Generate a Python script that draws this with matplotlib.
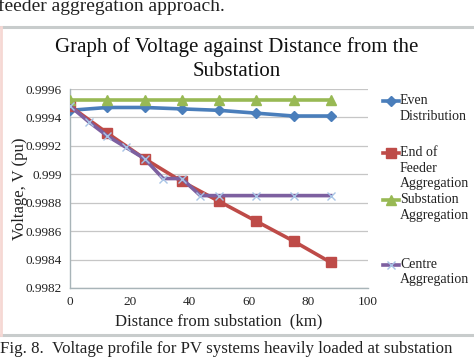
import matplotlib
matplotlib.use("Agg")
import matplotlib.pyplot as plt
from matplotlib.lines import Line2D
from matplotlib.ticker import FixedLocator, FuncFormatter

plt.rcParams["font.family"] = ["Liberation Serif", "DejaVu Serif"]

# data
distance = [0, 12.5, 25, 37.5, 50, 62.5, 75, 87.5]
even_dist = [0.99945, 0.99947, 0.99947, 0.99946, 0.99945, 0.99943, 0.99941, 0.99941]
end_feeder = [0.99948, 0.99929, 0.99911, 0.99895, 0.99881, 0.99867, 0.99853, 0.99838]
substation = [0.99952, 0.99952, 0.99952, 0.99952, 0.99952, 0.99952, 0.99952, 0.99952]
centre_dist = [0, 6.25, 12.5, 18.75, 25, 31.25, 37.5, 43.75, 50, 62.5, 75, 87.5]
centre = [0.99948, 0.99937, 0.99927, 0.99919, 0.99911, 0.99897, 0.99897, 0.99885,
          0.99885, 0.99885, 0.99885, 0.99885]
series_names = ["Even\nDistribution", "End of\nFeeder\nAggregation",
                "Substation\nAggregation", "Centre\nAggregation"]
y_ticks = [0.9982, 0.9984, 0.9986, 0.9988, 0.999, 0.9992, 0.9994, 0.9996]
x_ticks = [0, 20, 40, 60, 80, 100]

W, H = 474, 361
fig = plt.figure(figsize=(W / 100, H / 100), dpi=100)


def fy(py):
    return 1 - py / H


# page fragments around the chart box
fig.text(-0.005, fy(11), "feeder aggregation approach.", fontsize=14,
         ha="left", va="baseline", color="#222222")
fig.text(0.0, fy(353), "Fig. 8.  Voltage profile for PV systems heavily loaded at substation",
         fontsize=12.2, ha="left", va="baseline", color="#222222")
fig.add_artist(Line2D([0, 1], [fy(27), fy(27)], color="#c8cccc", lw=2.2))
fig.add_artist(Line2D([0, 1], [fy(335), fy(335)], color="#c8cccc", lw=2.2))
fig.add_artist(Line2D([0.002, 0.002], [fy(335), fy(27)], color="#f6d8d4", lw=2))

left, right, top, bottom = 70, 368, 89, 288
ax = fig.add_axes([left / W, fy(bottom), (right - left) / W, (bottom - top) / H])

styles = [
    dict(color="#4a7ebb", marker="D", ms=5.5),
    dict(color="#be4b48", marker="s", ms=6.5),
    dict(color="#98b954", marker="^", ms=6.5),
    dict(color="#7d60a0", marker="x", ms=6, mec="#a8c4e6", mew=1),
]
xs = [distance, distance, distance, centre_dist]
ys = [even_dist, end_feeder, substation, centre]
for x, y, st, name in zip(xs, ys, styles, series_names):
    ax.plot(x, y, lw=2.6, label=name, zorder=3, **st)

ax.set_xlim(0, 100)
ax.set_ylim(0.9982, 0.9996)
ax.xaxis.set_major_locator(FixedLocator(x_ticks))
ax.yaxis.set_major_locator(FixedLocator(y_ticks))
ax.yaxis.set_major_formatter(FuncFormatter(lambda v, p: ("%.4f" % v).rstrip("0")))
ax.tick_params(length=0, labelsize=9.5, colors="#222222", pad=6)
ax.grid(axis="y", color="#c6c6c6", lw=0.9)
ax.set_axisbelow(True)
for side in ("top", "right"):
    ax.spines[side].set_visible(False)
for side in ("left", "bottom"):
    ax.spines[side].set_color("#a8b4b8")
    ax.spines[side].set_linewidth(1.0)

ax.set_xlabel("Distance from substation  (km)", fontsize=12, color="#222222", labelpad=4)
ax.set_ylabel("Voltage, V (pu)", fontsize=12, color="#222222")
ax.yaxis.set_label_coords(-(left - 28) / (right - left), 0.5)

fig.text(0.5, fy(52), "Graph of Voltage against Distance from the",
         fontsize=15, ha="center", va="baseline", color="#111111")
fig.text(0.5, fy(76), "Substation",
         fontsize=15, ha="center", va="baseline", color="#111111")

# legend drawn by hand so the marker sits on the first text line
legend_rows = [101, 153, 200, 265]
for row, st, name in zip(legend_rows, styles, series_names):
    handle = Line2D([383 / W, 391 / W, 399 / W], [fy(row)] * 3, lw=2.6,
                    markevery=[1], transform=fig.transFigure, **st)
    fig.add_artist(handle)
    fig.text(400 / W, fy(row - 7), name, fontsize=10, ha="left", va="top",
             linespacing=1.25, color="#222222")

fig.savefig("out.png", dpi=100)
